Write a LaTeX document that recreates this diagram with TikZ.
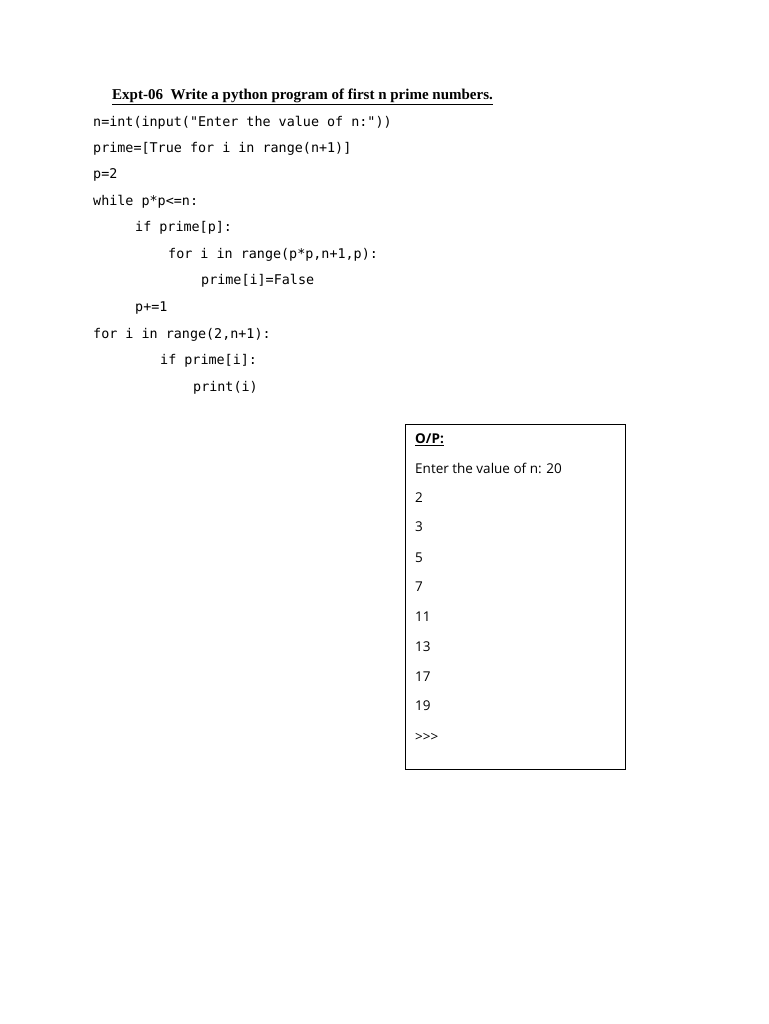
\documentclass[tikz,border=0pt]{standalone}
\usepackage{fontspec}
\setmainfont{Liberation Serif}
\newfontfamily\codefont{DejaVu Sans Mono}
\newfontfamily\outfont{Open Sans}
\begin{document}
\begin{tikzpicture}[x=1pt,y=-1pt,
  code/.style={anchor=west,inner sep=0pt,font=\codefont\fontsize{13.4}{15}\selectfont},
  outp/.style={anchor=west,inner sep=0pt,font=\outfont\fontsize{13.5}{15}\selectfont}]
\useasboundingbox[fill=white] (0,0) rectangle (768,1024);
\node[anchor=west,inner sep=0pt,font=\bfseries\fontsize{15}{17}\selectfont] (title) at (112,96) {Expt-06\ \ Write a python program of first n prime numbers.};
\draw[line width=0.8pt] ([yshift=-1.5pt]title.south west) -- ([yshift=-1.5pt]title.south east);
\node[code] (c1) at (93,123) {n=int(input("Enter the value of n:"))};
\node[code] (c2) at (93,149) {prime=[True for i in range(n+1)]};
\node[code] (c3) at (93,175) {p=2};
\node[code] (c4) at (93,202) {while p*p<=n:};
\node[code] (c5) at (135,228) {if prime[p]:};
\node[code] (c6) at (168,255) {for i in range(p*p,n+1,p):};
\node[code] (c7) at (201,281) {prime[i]=False};
\node[code] (c8) at (135,308) {p+=1};
\node[code] (c9) at (93,335) {for i in range(2,n+1):};
\node[code] (c10) at (160,361) {if prime[i]:};
\node[code] (c11) at (193,388) {print(i)};
\draw[line width=0.8pt] (405,424) rectangle (625,769);
\node[outp,font=\outfont\bfseries\fontsize{13.5}{15}\selectfont] (op) at (415,439) {O/P:};
\draw[line width=0.8pt] ([yshift=-1.5pt]op.south west) -- ([yshift=-1.5pt]op.south east);
\node[outp] (o1) at (415,468) {Enter the value of n: 20};
\node[outp] (o2) at (415,498) {2};
\node[outp] (o3) at (415,527) {3};
\node[outp] (o4) at (415,558) {5};
\node[outp] (o5) at (415,587) {7};
\node[outp] (o6) at (415,617) {11};
\node[outp] (o7) at (415,647) {13};
\node[outp] (o8) at (415,677) {17};
\node[outp] (o9) at (415,706) {19};
\node[outp] (o10) at (415,737) {>{}>{}>};
\end{tikzpicture}
\end{document}
